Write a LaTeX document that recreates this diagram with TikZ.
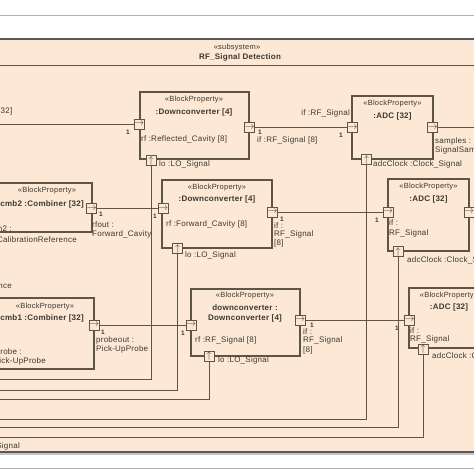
\documentclass[tikz,border=0pt]{standalone}
\usepackage{fontspec}
\setmainfont[LetterSpace=3]{Liberation Sans}
\usepackage{tikz}

\definecolor{peach}{HTML}{FCE8D4}
\definecolor{edge}{HTML}{5F5547}
\definecolor{ink}{HTML}{3C3833}

\begin{document}
\begin{tikzpicture}[x=1pt,y=-1pt,
    block/.style={draw=edge,fill=peach,line width=1.1pt,inner sep=0pt},
    port/.style={draw=edge,fill=peach,line width=0.9pt,minimum size=10pt,inner sep=0pt,text=ink,font=\fontsize{10}{10}\selectfont},
    stereo/.style={font=\fontsize{7.5}{8}\selectfont,text=ink,inner sep=0pt},
    bname/.style={font=\fontsize{8}{9}\selectfont\bfseries,text=ink,inner sep=0pt},
    lbl/.style={font=\fontsize{8}{9}\selectfont,text=ink,inner sep=0pt},
    mult/.style={font=\fontsize{6.5}{7}\selectfont\bfseries,text=ink,inner sep=0pt},
    wire/.style={draw=edge,line width=1pt}]
    \useasboundingbox (0,0) rectangle (474,474);
    \clip (0,0) rectangle (474,474);

    % page rules and subsystem frame
    \draw[gray!60,line width=1pt] (-5,15.5) -- (480,15.5);
    \draw[gray!60,line width=1pt] (-5,468.5) -- (480,468.5);
    \fill[gray!45] (-10,37.5) rectangle (490,455);
    \draw[fill=peach,draw=gray!70!black,line width=1.2pt] (-10,39) rectangle (488,452);
    \draw[edge,line width=1pt] (-10,65.5) -- (488,65.5);
    \node[stereo] (sub) at (237,48) {«subsystem»};
    \node[bname] (subname) at (240,57) {RF\_Signal Detection};

    % blocks
    \node[block,minimum width=109pt,minimum height=67pt] (dcR) at (194.5,125.5) {};
    \node[block,minimum width=81pt,minimum height=63pt] (adcR) at (392.5,127.5) {};
    \node[block,minimum width=110pt,minimum height=68pt] (dcF) at (217,214) {};
    \node[block,minimum width=95pt,minimum height=49pt] (cmb2) at (44.5,207.5) {};
    \node[block,minimum width=81pt,minimum height=72pt] (adcF) at (428.5,215) {};
    \node[block,minimum width=98pt,minimum height=71pt] (cmb1) at (45,333.5) {};
    \node[block,minimum width=109pt,minimum height=67pt] (dcP) at (245.5,322.5) {};
    \node[block,minimum width=81pt,minimum height=60pt] (adcP) at (449.5,318) {};

    \node[stereo] (dcRst) at (194,100) {«BlockProperty»};
    \node[bname] (dcRnm) at (194,112) {:Downconverter [4]};
    \node[stereo] (adcRst) at (392.5,104) {«BlockProperty»};
    \node[bname] (adcRnm) at (392.5,116) {:ADC [32]};
    \node[stereo] (dcFst) at (217,188) {«BlockProperty»};
    \node[bname] (dcFnm) at (217,199) {:Downconverter [4]};
    \node[stereo] (cmb2st) at (47,191) {«BlockProperty»};
    \node[bname,anchor=east] (cmb2nm) at (84,204) {cmb2 :Combiner [32]};
    \node[stereo] (adcFst) at (428.5,187) {«BlockProperty»};
    \node[bname] (adcFnm) at (428.5,199) {:ADC [32]};
    \node[stereo] (cmb1st) at (45,307) {«BlockProperty»};
    \node[bname,anchor=east] (cmb1nm) at (84,318) {cmb1 :Combiner [32]};
    \node[stereo] (dcPst) at (245,296) {«BlockProperty»};
    \node[bname] (dcPnm) at (245,308) {downconverter :};
    \node[bname] (dcPty) at (245,318) {Downconverter [4]};
    \node[stereo] (adcPst) at (449,296) {«BlockProperty»};
    \node[bname] (adcPnm) at (449,307) {:ADC [32]};

    % connectors
    \coordinate (calIn) at (-5,124);
    \coordinate (samplesOut) at (480,127.5);
    \coordinate (loR) at (-5,379);
    \coordinate (loF) at (-5,390);
    \coordinate (loP) at (-5,399);
    \coordinate (clkR) at (-5,419);
    \coordinate (clkF) at (-5,427);
    \coordinate (clkP) at (-5,437);

    % ports
    \node[port] (dcRrf) at (139,124) {$\rightarrow$};
    \node[port] (dcRlo) at (151,160.5) {$\uparrow$};
    \node[port] (dcRif) at (249.5,127.5) {$\rightarrow$};
    \node[port] (adcRif) at (352.5,127.5) {$\rightarrow$};
    \node[port] (adcRout) at (432.5,127.5) {$\rightarrow$};
    \node[port] (adcRclk) at (366.5,159.5) {$\uparrow$};
    \node[port] (cmb2out) at (91.5,208.5) {$\rightarrow$};
    \node[port] (dcFrf) at (163,208.5) {$\rightarrow$};
    \node[port] (dcFif) at (272.5,212) {$\rightarrow$};
    \node[port] (dcFlo) at (177.5,248.5) {$\uparrow$};
    \node[port] (adcFif) at (388,212) {$\rightarrow$};
    \node[port] (adcFout) at (469,212) {$\rightarrow$};
    \node[port] (adcFclk) at (398,251.5) {$\uparrow$};
    \node[port] (cmb1out) at (94,325) {$\rightarrow$};
    \node[port] (dcPrf) at (191,325) {$\rightarrow$};
    \node[port] (dcPif) at (300,320) {$\rightarrow$};
    \node[port] (dcPlo) at (209,356) {$\uparrow$};
    \node[port] (adcPif) at (409.5,320) {$\rightarrow$};
    \node[port] (adcPclk) at (423,349) {$\uparrow$};

    \draw[wire] (calIn) -- (dcRrf);
    \draw[wire] (dcRif) -- (adcRif);
    \draw[wire] (adcRout) -- (samplesOut);
    \draw[wire] (cmb2out) -- (dcFrf);
    \draw[wire] (dcFif) -- (adcFif);
    \draw[wire] (cmb1out) -- (dcPrf);
    \draw[wire] (dcPif) -- (adcPif);
    \draw[wire] (dcRlo) |- (loR);
    \draw[wire] (dcFlo) |- (loF);
    \draw[wire] (dcPlo) |- (loP);
    \draw[wire] (adcRclk) |- (clkR);
    \draw[wire] (adcFclk) |- (clkF);
    \draw[wire] (adcPclk) |- (clkP);

    % port labels
    \node[lbl,anchor=east] (calLbl) at (12.5,111) {[32]};
    \node[mult] (m1) at (128,132) {1};
    \node[lbl,anchor=west] (dcRrfL) at (141,139) {rf :Reflected\_Cavity [8]};
    \node[lbl,anchor=west] (dcRloL) at (159,164) {lo :LO\_Signal};
    \node[mult] (m2) at (260,132) {1};
    \node[lbl,anchor=west] (dcRifL) at (257,140) {if :RF\_Signal [8]};
    \node[lbl,anchor=east] (adcRifL) at (350,113) {if :RF\_Signal};
    \node[mult] (m3) at (341,135) {1};
    \node[lbl,anchor=west] (adcRoutL) at (435,141) {samples :};
    \node[lbl,anchor=west] (adcRoutT) at (435,150) {SignalSamples};
    \node[lbl,anchor=west] (adcRclkL) at (373,164) {adcClock :Clock\_Signal};

    \node[mult] (m4) at (101,214) {1};
    \node[lbl,anchor=west] (cmb2outL) at (92,225) {rfout :};
    \node[lbl,anchor=west] (cmb2outT) at (92,234) {Forward\_Cavity};
    \node[lbl,anchor=east] (cmb2inL) at (12,229) {in2 :};
    \node[lbl,anchor=east] (cmb2inT) at (77,240) {CalibrationReference};
    \node[lbl,anchor=east] (refL) at (12,286) {Reference};
    \node[mult] (m5) at (155,216) {1};
    \node[lbl,anchor=west] (dcFrfL) at (166,224) {rf :Forward\_Cavity [8]};
    \node[lbl,anchor=west] (dcFloL) at (185,255) {lo :LO\_Signal};
    \node[mult] (m6) at (282,219) {1};
    \node[lbl,anchor=west] (dcFifL) at (274,226) {if :};
    \node[lbl,anchor=west] (dcFifT) at (274,234) {RF\_Signal};
    \node[lbl,anchor=west] (dcFifM) at (274,243) {[8]};
    \node[mult] (m7) at (377,220) {1};
    \node[lbl,anchor=west] (adcFifL) at (389,223) {if :};
    \node[lbl,anchor=west] (adcFifT) at (389,233) {RF\_Signal};
    \node[lbl,anchor=west] (adcFclkL) at (407,260) {adcClock :Clock\_Signal};

    \node[mult] (m8) at (103,332) {1};
    \node[lbl,anchor=west] (cmb1outL) at (96,340) {probeout :};
    \node[lbl,anchor=west] (cmb1outT) at (96,349) {Pick-UpProbe};
    \node[lbl,anchor=east] (cmb1inL) at (22,352) {probe :};
    \node[lbl,anchor=east] (cmb1inT) at (46,361) {Pick-UpProbe};
    \node[mult] (m9) at (183,333) {1};
    \node[lbl,anchor=west] (dcPrfL) at (195,340) {rf :RF\_Signal [8]};
    \node[lbl,anchor=west] (dcPloL) at (218,360) {lo :LO\_Signal};
    \node[mult] (m10) at (312,325.5) {1};
    \node[lbl,anchor=west] (dcPifL) at (303,332) {if :};
    \node[lbl,anchor=west] (dcPifT) at (303,340) {RF\_Signal};
    \node[lbl,anchor=west] (dcPifM) at (303,350) {[8]};
    \node[mult] (m11) at (397,328) {1};
    \node[lbl,anchor=west] (adcPifL) at (410,331) {if :};
    \node[lbl,anchor=west] (adcPifT) at (410,339) {RF\_Signal};
    \node[lbl,anchor=west] (adcPclkL) at (432,356) {adcClock :Clock\_Signal};
    \node[lbl,anchor=east] (clkLbl) at (20,446) {Clock\_Signal};
\end{tikzpicture}
\end{document}
